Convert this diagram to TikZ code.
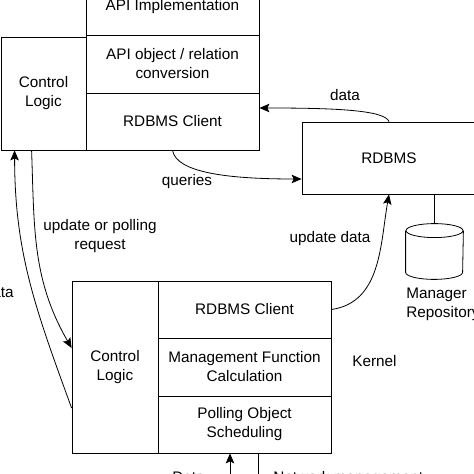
\documentclass[tikz,border=0pt]{standalone}
\usepackage{fontspec}
\setmainfont{Liberation Sans}
\usepackage{tikz}
\usetikzlibrary{positioning,arrows.meta}

\begin{document}
\begin{tikzpicture}[
  x=1pt, y=1pt,
  every node/.style={font=\fontsize{15.3}{19}\selectfont},
  every path/.style={line width=0.8pt},
  block/.style={draw, inner sep=0pt, align=center, minimum width=173pt},
  ctrl/.style={draw, inner sep=0pt, align=center},
  lbl/.style={inner sep=1pt, align=center},
  arr/.style={-{Stealth[length=10pt,width=8.5pt,inset=2pt]}},
]
\useasboundingbox (0,0) rectangle (474,474);

% ---------------- upper part: API side ----------------
\node[ctrl, minimum width=85pt, minimum height=113pt] (ctrlA) at (43.5,380.5) {Control\\Logic};
\node[block, minimum height=57pt] (apiImpl) at (172.5,467.5) {API Implementation};
\node[block, minimum height=58pt] (apiConv) at (172.5,410) {API object / relation\\conversion};
\node[block, minimum height=57pt] (dbcA)    at (172.5,352.5) {RDBMS Client};

% ---------------- database ----------------
\node[draw, inner sep=0pt, minimum width=174pt, minimum height=72pt] (rdbms) at (389,316) {RDBMS};
% repository drum (node only gives the frame)
\node[inner sep=0pt, minimum width=57pt, minimum height=55pt] (store) at (434.5,222.5) {};
\draw ([yshift=-7pt]store.north) ellipse [x radius=28.5pt, y radius=7pt];
\draw ([yshift=-7pt]store.north west) -- ([yshift=7pt]store.south west)
  arc [start angle=180, end angle=360, x radius=28.5pt, y radius=7pt] -- ([yshift=-7pt]store.north east);
\node[lbl, anchor=west, align=left] (storeLbl) at (405,170) {Manager\\Repository};
\draw (store.north) -- (store.north |- rdbms.south);

\draw[arr] (rdbms.north) .. controls +(-4,12) and +(70,0) .. ([yshift=13.5pt]dbcA.east);
\node[lbl] (dataTop) at (345,379) {data};
\draw[arr] (dbcA.south) .. controls +(4,-22) and +(-75,0) .. ([yshift=-21pt]rdbms.west);
\node[lbl] (queries) at (187,292) {queries};

% ---------------- lower part: kernel ----------------
\node[ctrl, minimum width=86pt, minimum height=172pt] (ctrlB) at (115,107) {Control\\Logic};
\node[block, minimum height=57pt] (dbcB) at (244.5,164.5) {RDBMS Client};
\node[block, minimum height=58pt] (mgmt) at (244.5,107) {Management Function\\Calculation};
\node[block, minimum height=57pt] (poll) at (244.5,49.5) {Polling Object\\Scheduling};
\node[lbl] (kernel) at (374.5,113) {Kernel};

\draw[arr] (dbcB.east) to[out=8, in=-100] (rdbms.south);
\node[lbl] (updData) at (330,235) {update data};

% ---------------- between the two control logics ----------------
\draw[arr] ([xshift=31pt]ctrlA.south west) to[out=-88, in=120] ([yshift=19pt]ctrlB.west);
\node[lbl] (updReq) at (100,237.5) {update or polling\\request};
\draw[arr] ([yshift=-41pt]ctrlB.west) to[out=110, in=-90] ([xshift=14pt]ctrlA.south west);
\node[lbl, anchor=east] (dataLeft) at (15,182) {data};

% ---------------- network side (cut off) ----------------
\coordinate (netIn)  at (230,-10);
\coordinate (netOut) at (258,-10);
\draw[arr] (netIn) -- (netIn |- poll.south);
\draw (netOut |- poll.south) -- (netOut);
\node[anchor=base west, inner sep=0pt] (dataIn) at (172,-9) {Data};
\node[anchor=base west, inner sep=0pt] (netMgmt) at (273,-9) {Network management};
\end{tikzpicture}
\end{document}
